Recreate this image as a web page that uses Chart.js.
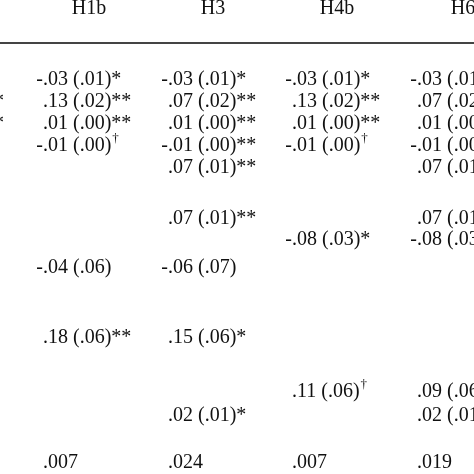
<!DOCTYPE html>
<html><head><meta charset="utf-8">
<script src="https://cdn.jsdelivr.net/npm/chart.js@4"></script>
<style>html,body{margin:0;padding:0;background:#fff}#w{width:474px;height:474px}</style>
</head><body><div id="w"><canvas id="c"></canvas></div>
<script>
// Data
const headers = ["H1b", "H3", "H4b", "H6"];
const colH1b = ["-.03 (.01)*", ".13 (.02)**", ".01 (.00)**", "-.01 (.00)†", "", "", "", "-.04 (.06)", ".18 (.06)**", "", "", ".007"];
const colH3  = ["-.03 (.01)*", ".07 (.02)**", ".01 (.00)**", "-.01 (.00)**", ".07 (.01)**", ".07 (.01)**", "", "-.06 (.07)", ".15 (.06)*", "", ".02 (.01)*", ".024"];
const colH4b = ["-.03 (.01)*", ".13 (.02)**", ".01 (.00)**", "-.01 (.00)†", "", "", "-.08 (.03)*", "", "", ".11 (.06)†", "", ".007"];
const colH6  = ["-.03 (.01)*", ".07 (.02)**", ".01 (.00)**", "-.01 (.00)**", ".07 (.01)**", ".07 (.01)**", "-.08 (.03)*", "", "", ".09 (.06)", ".02 (.01)*", ".019"];
const leftStub = ["", "**", "**", "", "", "", "", "", "", "", "", ""];
// Layout (not data)
const rowY = [80, 102, 124, 146, 168, 219, 240, 268, 338, 392, 416, 463];
const colX = [43, 168, 292, 417];
const headX = [89, 213, 337, 463];
const cols = [colH1b, colH3, colH4b, colH6];

const pts = [];
cols.forEach((c, ci) => c.forEach((s, ri) => { if (s) pts.push({x: colX[ci], y: rowY[ri], t: s}); }));

const FONT = '20px "Liberation Serif", "DejaVu Serif", serif';
function drawCell(ctx, s, x, y) {
  let t = s, sup = '';
  if (t.endsWith('†')) { t = t.slice(0, -1); sup = '†'; }
  let lx = x;
  if (t.startsWith('-')) lx -= ctx.measureText('-').width;
  ctx.fillText(t, lx, y);
  if (sup) {
    const w = ctx.measureText(t).width;
    ctx.save(); ctx.font = '13px "Liberation Serif", serif';
    ctx.fillText(sup, lx + w + 1, y - 7); ctx.restore();
  }
}
const tablePlugin = {
  id: 'tbl',
  afterDatasetsDraw(chart) {
    const ctx = chart.ctx, xs = chart.scales.x, ys = chart.scales.y;
    ctx.save();
    ctx.fillStyle = '#111'; ctx.font = FONT; ctx.textBaseline = 'middle';
    ctx.textAlign = 'center';
    headers.forEach((h, i) => ctx.fillText(h, xs.getPixelForValue(headX[i]), ys.getPixelForValue(9)));
    ctx.strokeStyle = '#444'; ctx.lineWidth = 2;
    ctx.beginPath(); ctx.moveTo(xs.getPixelForValue(0), ys.getPixelForValue(43));
    ctx.lineTo(xs.getPixelForValue(474), ys.getPixelForValue(43)); ctx.stroke();
    ctx.textAlign = 'left';
    chart.data.datasets[0].data.forEach(p => drawCell(ctx, p.t, xs.getPixelForValue(p.x), ys.getPixelForValue(p.y)));
    ctx.textAlign = 'right';
    leftStub.forEach((s, i) => { if (s) ctx.fillText(s, xs.getPixelForValue(4), ys.getPixelForValue(rowY[i])); });
    ctx.restore();
  }
};
new Chart(document.getElementById('c'), {
  type: 'scatter',
  data: { datasets: [{ data: pts, pointRadius: 0, pointHoverRadius: 0 }] },
  options: {
    responsive: true, maintainAspectRatio: false, animation: false,
    layout: { padding: 0 },
    plugins: { legend: { display: false }, tooltip: { enabled: false } },
    scales: {
      x: { type: 'linear', min: 0, max: 474, display: false },
      y: { type: 'linear', min: 0, max: 474, reverse: true, display: false }
    }
  },
  plugins: [tablePlugin]
});
</script></body></html>
